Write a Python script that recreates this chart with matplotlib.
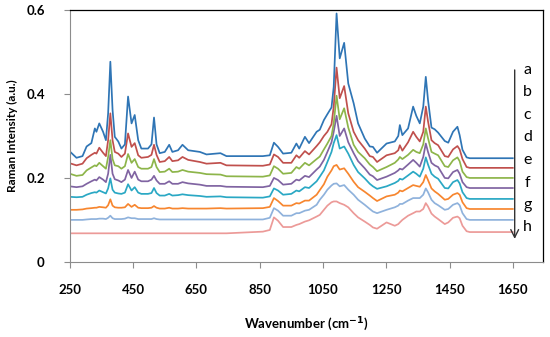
import matplotlib
matplotlib.use("Agg")
import matplotlib.pyplot as plt
import numpy as np

plt.rcParams['font.family'] = ['Lato', 'DejaVu Sans']

# wavenumber grid (cm-1) shared by all spectra
wavenumber = [
    250, 271, 290, 303, 318, 329, 334, 343, 355, 364,
    371, 378, 385, 392, 403, 413, 424, 434, 445, 455,
    466, 476, 497, 508, 516, 524, 534, 550, 564, 574,
    592, 606, 624, 661, 682, 726, 745, 860, 882, 895,
    908, 924, 950, 966, 975, 993, 1006, 1030, 1040, 1053,
    1064, 1077, 1084, 1093, 1103, 1117, 1130, 1147, 1161, 1182,
    1198, 1208, 1221, 1251, 1277, 1288, 1293, 1301, 1319, 1335,
    1345, 1356, 1367, 1375, 1382, 1393, 1403, 1414, 1435, 1446,
    1461, 1475, 1482, 1491, 1504, 1514, 1650,
]

spec_a = [
    .263, .248, .252, .275, .283, .318, .310, .330, .310, .290,
    .354, .477, .362, .298, .287, .270, .280, .394, .330, .350,
    .290, .270, .270, .280, .344, .280, .259, .262, .279, .262,
    .266, .279, .266, .262, .256, .259, .252, .252, .254, .284,
    .274, .258, .260, .282, .270, .298, .283, .310, .315, .338,
    .352, .368, .417, .592, .485, .522, .425, .378, .330, .294,
    .275, .274, .260, .282, .287, .300, .326, .302, .318, .370,
    .348, .330, .370, .441, .386, .320, .316, .308, .288, .284,
    .310, .322, .302, .267, .249, .247, .247,
]
spec_b = [
    .235, .230, .234, .247, .255, .260, .258, .272, .260, .252,
    .290, .354, .290, .262, .258, .250, .258, .306, .274, .283,
    .254, .248, .250, .255, .279, .255, .238, .240, .250, .240,
    .242, .250, .243, .238, .234, .236, .230, .229, .232, .256,
    .250, .236, .236, .254, .248, .264, .256, .276, .285, .300,
    .310, .328, .370, .463, .390, .419, .354, .310, .290, .270,
    .252, .250, .238, .254, .259, .266, .278, .265, .285, .310,
    .298, .287, .310, .370, .335, .290, .283, .278, .252, .250,
    .268, .276, .268, .245, .226, .224, .224,
]
spec_c = [
    .210, .205, .207, .218, .225, .230, .228, .236, .228, .222,
    .250, .290, .245, .230, .228, .222, .228, .257, .236, .245,
    .226, .222, .222, .226, .245, .226, .214, .215, .222, .214,
    .215, .219, .215, .212, .209, .208, .204, .203, .206, .228,
    .222, .210, .212, .226, .222, .236, .230, .245, .251, .268,
    .282, .300, .330, .396, .340, .366, .320, .279, .262, .247,
    .232, .226, .216, .226, .236, .244, .250, .245, .255, .267,
    .262, .259, .280, .318, .295, .262, .258, .254, .228, .226,
    .242, .249, .240, .215, .202, .200, .200,
]
spec_d = [
    .180, .178, .180, .186, .192, .196, .194, .202, .196, .190,
    .210, .255, .210, .197, .194, .190, .196, .219, .200, .215,
    .196, .192, .192, .196, .205, .194, .186, .186, .192, .186,
    .186, .190, .187, .184, .181, .181, .179, .178, .181, .200,
    .195, .184, .186, .196, .194, .205, .202, .220, .227, .243,
    .262, .285, .310, .348, .300, .318, .285, .259, .240, .223,
    .208, .204, .195, .203, .212, .218, .222, .220, .232, .243,
    .236, .227, .250, .282, .262, .236, .230, .226, .200, .199,
    .214, .219, .210, .190, .178, .176, .176,
]
spec_e = [
    .155, .154, .155, .160, .164, .166, .165, .170, .166, .163,
    .175, .199, .172, .165, .163, .162, .165, .185, .170, .178,
    .165, .162, .162, .164, .176, .164, .158, .158, .162, .158,
    .159, .161, .159, .157, .155, .156, .154, .153, .156, .175,
    .170, .160, .162, .170, .168, .178, .176, .192, .203, .218,
    .238, .262, .283, .302, .270, .275, .258, .231, .214, .199,
    .186, .180, .174, .180, .188, .193, .198, .196, .206, .215,
    .210, .203, .222, .249, .232, .210, .203, .198, .176, .175,
    .190, .195, .187, .166, .152, .150, .150,
]
spec_f = [
    .124, .124, .125, .127, .128, .129, .129, .131, .130, .129,
    .135, .149, .134, .130, .129, .129, .130, .138, .131, .136,
    .129, .128, .128, .129, .133, .129, .127, .127, .129, .127,
    .127, .128, .127, .127, .127, .128, .127, .128, .131, .152,
    .145, .134, .134, .140, .139, .146, .146, .160, .171, .185,
    .203, .218, .228, .231, .220, .223, .210, .191, .178, .167,
    .158, .152, .145, .156, .160, .165, .170, .168, .176, .183,
    .181, .179, .190, .207, .195, .175, .168, .162, .148, .150,
    .160, .164, .160, .142, .128, .126, .126,
]
spec_g = [
    .100, .100, .100, .101, .102, .102, .102, .103, .103, .102,
    .105, .110, .104, .102, .102, .102, .103, .106, .104, .104,
    .102, .102, .102, .102, .104, .102, .101, .101, .101, .101,
    .101, .101, .101, .101, .101, .101, .101, .101, .105, .128,
    .122, .110, .110, .116, .116, .122, .124, .136, .148, .160,
    .172, .182, .186, .187, .180, .183, .172, .160, .148, .136,
    .126, .120, .116, .124, .130, .134, .138, .138, .146, .152,
    .152, .152, .160, .175, .166, .148, .140, .135, .124, .126,
    .136, .140, .135, .116, .102, .100, .100,
]
spec_h = [
    .068, .068, .068, .068, .068, .068, .068, .068, .068, .068,
    .068, .068, .068, .068, .068, .068, .068, .068, .068, .068,
    .068, .068, .068, .068, .068, .068, .068, .068, .068, .068,
    .068, .068, .068, .068, .068, .068, .068, .072, .076, .106,
    .098, .083, .083, .088, .090, .096, .099, .108, .112, .124,
    .134, .142, .144, .144, .140, .136, .130, .116, .106, .096,
    .088, .082, .079, .094, .086, .090, .094, .100, .110, .116,
    .120, .120, .126, .140, .132, .115, .108, .102, .090, .094,
    .105, .108, .104, .086, .073, .071, .071,
]

labels = ['a', 'b', 'c', 'd', 'e', 'f', 'g', 'h']
label_y = [0.457, 0.405, 0.350, 0.298, 0.243, 0.188, 0.136, 0.083]
colors = ['#2f75b5', '#c0504d', '#8db54a', '#8064a2',
          '#2aa8c4', '#f7862f', '#8fb2dc', '#ec9a98']
spectra = [spec_a, spec_b, spec_c, spec_d, spec_e, spec_f, spec_g, spec_h]

fig = plt.figure(figsize=(5.5, 3.37), dpi=100)
ax = fig.add_axes([0.127, 0.223, 0.860, 0.747])

# draw bottom spectrum first so the upper ones sit on top
for spec, col in reversed(list(zip(spectra, colors))):
    ax.plot(wavenumber, spec, color=col, lw=1.25, solid_joinstyle='round')

ax.set_xlim(250, 1745)
ax.set_ylim(0, 0.6)
ax.set_xticks([250, 450, 650, 850, 1050, 1250, 1450, 1650])
ax.set_yticks([0, 0.2, 0.4, 0.6])
ax.set_yticklabels(['0', '0.2', '0.4', '0.6'])

for side in ['left', 'bottom']:
    ax.spines[side].set_color('#8c8c8c')
for side in ['top', 'right']:
    ax.spines[side].set_color('black')
    ax.spines[side].set_linewidth(0.9)
ax.tick_params(axis='both', direction='out', length=4, color='#8c8c8c',
               labelsize=9.5)
ax.tick_params(axis='x', pad=12)
ax.tick_params(axis='y', pad=14)
for t in ax.get_xticklabels() + ax.get_yticklabels():
    t.set_fontweight('bold')

ax.set_xlabel('Wavenumber (cm$^{\\mathbf{-1}}$)', fontsize=9.5,
              fontweight='bold', labelpad=14)
ax.set_ylabel('Raman Intensity (a.u.)', fontsize=8.5, fontweight='bold',
              labelpad=6)

# sample order arrow and letters
ax.annotate('', xy=(1656, 0.048), xytext=(1656, 0.464),
            arrowprops=dict(arrowstyle='->', color='#333333', lw=1.0,
                            mutation_scale=14))
for lab, y in zip(labels, label_y):
    ax.text(1697, y, lab, fontsize=11.5, ha='center', va='center')

fig.savefig('out.png', dpi=100)
